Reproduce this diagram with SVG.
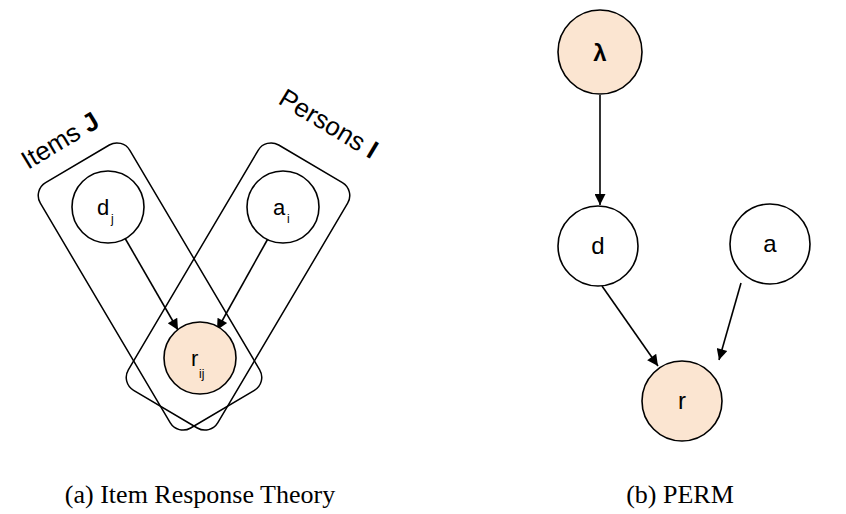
<svg xmlns="http://www.w3.org/2000/svg" width="846" height="514" viewBox="0 0 846 514">
<style>
.n{fill:#fff;stroke:#000;stroke-width:1.6}
.p{fill:#fbe5d1;stroke:#000;stroke-width:1.6}
.pl{fill:none;stroke:#000;stroke-width:1.5}
.t{font-family:"Liberation Sans",Arial,sans-serif;fill:#000}
.e{stroke:#000;stroke-width:1.6;fill:none;marker-end:url(#ah)}
.c{font-family:"Liberation Serif","Times New Roman",serif;font-size:26px;fill:#000}
</style>
<defs><marker id="ah" viewBox="0 0 10 10" refX="10" refY="5" markerWidth="15" markerHeight="11" markerUnits="userSpaceOnUse" orient="auto"><path d="M0,0L10,5L0,10z" fill="#000"/></marker></defs>
<g id="plate-items"><rect class="pl" x="98" y="144" width="104" height="285" rx="15" transform="rotate(-30.6 150 286.5)"/>
<text class="t" font-size="26" transform="translate(28 170) rotate(-31)">Items <tspan font-weight="bold">J</tspan></text></g>
<g id="plate-persons"><rect class="pl" x="186" y="144" width="104" height="285" rx="15" transform="rotate(30.6 238 286.5)"/>
<text class="t" font-size="26" transform="translate(277 103) rotate(31)">Persons <tspan font-weight="bold">I</tspan></text></g>
<g id="connectors">
<line class="e" x1="122" y1="233" x2="178" y2="330"/>
<line class="e" x1="270" y1="235" x2="217" y2="330"/>
<line class="e" x1="600" y1="95" x2="600" y2="205"/>
<line class="e" x1="602" y1="286" x2="658" y2="366"/>
<line class="e" x1="741" y1="283" x2="719" y2="360"/>
</g>
<g id="dj"><circle class="n" cx="108" cy="207" r="36"/><text class="t" font-size="22" x="97" y="215">d</text><text class="t" font-size="12" x="111" y="223">j</text></g>
<g id="ai"><circle class="n" cx="283" cy="207" r="36"/><text class="t" font-size="22" x="273" y="215">a</text><text class="t" font-size="12" x="287" y="223">i</text></g>
<g id="rij"><circle class="p" cx="200" cy="358" r="36"/><text class="t" font-size="22" x="191" y="366">r</text><text class="t" font-size="12" x="199" y="378">ij</text></g>
<g id="lambda"><circle class="p" cx="600" cy="52" r="42"/><text class="t" font-size="24" font-weight="bold" x="600" y="61" text-anchor="middle">λ</text></g>
<g id="d"><circle class="n" cx="598" cy="246" r="40"/><text class="t" font-size="24" x="598" y="254" text-anchor="middle">d</text></g>
<g id="a"><circle class="n" cx="770" cy="244" r="40"/><text class="t" font-size="24" x="770" y="252" text-anchor="middle">a</text></g>
<g id="r"><circle class="p" cx="682" cy="401" r="40"/><text class="t" font-size="24" x="682" y="409" text-anchor="middle">r</text></g>
<text class="c" x="200" y="503" text-anchor="middle">(a) Item Response Theory</text>
<text class="c" x="680" y="503" text-anchor="middle">(b) PERM</text>
</svg>
